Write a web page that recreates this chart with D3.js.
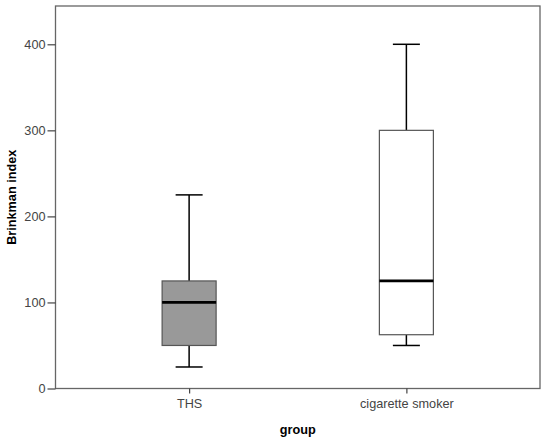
<!DOCTYPE html>
<html>
<head>
<meta charset="utf-8">
<script src="https://cdn.jsdelivr.net/npm/d3@7"></script>
<style>
  body { margin: 0; background: #fff; }
  svg { display: block; font-family: "Liberation Sans", Arial, sans-serif; }
</style>
</head>
<body>
<svg id="chart"></svg>
<script>
// box plot summaries
const groups = ["THS", "cigarette smoker"];
const whiskerLow = [25, 50];
const q1 = [50, 62.5];
const median = [100, 125];
const q3 = [125, 300];
const whiskerHigh = [225, 400];
const boxFill = ["#999999", "#ffffff"];
const yTicks = [0, 100, 200, 300, 400];

const W = 550, H = 441;
const margin = { top: 6, right: 10, bottom: 52.5, left: 55.5 };
const width = W - margin.left - margin.right;
const height = H - margin.top - margin.bottom;

const svg = d3.select("#chart").attr("width", W).attr("height", H);
const g = svg.append("g").attr("transform", `translate(${margin.left}, ${margin.top})`);

const x = d3.scalePoint().domain(groups).range([0, width]).padding(0.615);
const y = d3.scaleLinear().domain([0, 444.5]).range([height, 0]);

const boxW = 54, capW = 27;

// frame
g.append("rect")
  .attr("width", width)
  .attr("height", height)
  .attr("fill", "none")
  .attr("stroke", "#666")
  .attr("stroke-width", 1.3);

// y axis
const yAxis = g.append("g")
  .call(d3.axisLeft(y).tickValues(yTicks).tickSize(8).tickPadding(2));
yAxis.select(".domain").remove();
yAxis.selectAll("line").attr("stroke", "#444").attr("stroke-width", 1.2);
yAxis.selectAll("text").attr("fill", "#444").style("font-size", "12.7px");

// x axis
const xAxis = g.append("g")
  .attr("transform", `translate(0, ${height})`)
  .call(d3.axisBottom(x).tickSize(5).tickPadding(5));
xAxis.select(".domain").remove();
xAxis.selectAll("line").attr("stroke", "#444").attr("stroke-width", 1.2);
xAxis.selectAll("text").attr("fill", "#444").style("font-size", "12.7px");

// boxes
groups.forEach((grp, i) => {
  const cx = x(grp);
  const bg = g.append("g");

  // whiskers
  bg.append("line")
    .attr("x1", cx).attr("x2", cx)
    .attr("y1", y(q3[i])).attr("y2", y(whiskerHigh[i]))
    .attr("stroke", "#000").attr("stroke-width", 1.5);
  bg.append("line")
    .attr("x1", cx).attr("x2", cx)
    .attr("y1", y(q1[i])).attr("y2", y(whiskerLow[i]))
    .attr("stroke", "#000").attr("stroke-width", 1.5);
  [whiskerHigh[i], whiskerLow[i]].forEach((v) => {
    bg.append("line")
      .attr("x1", cx - capW / 2).attr("x2", cx + capW / 2)
      .attr("y1", y(v)).attr("y2", y(v))
      .attr("stroke", "#000").attr("stroke-width", 1.5);
  });

  // box
  bg.append("rect")
    .attr("x", cx - boxW / 2)
    .attr("y", y(q3[i]))
    .attr("width", boxW)
    .attr("height", y(q1[i]) - y(q3[i]))
    .attr("fill", boxFill[i])
    .attr("stroke", "#555")
    .attr("stroke-width", 1.2);

  // median
  bg.append("line")
    .attr("x1", cx - boxW / 2).attr("x2", cx + boxW / 2)
    .attr("y1", y(median[i])).attr("y2", y(median[i]))
    .attr("stroke", "#000").attr("stroke-width", 2.8);
});

// axis titles
svg.append("text")
  .attr("x", margin.left + width / 2)
  .attr("y", 434)
  .attr("text-anchor", "middle")
  .style("font-size", "12.7px")
  .style("font-weight", "bold")
  .text("group");

svg.append("text")
  .attr("transform", `translate(16, ${margin.top + height / 2}) rotate(-90)`)
  .attr("text-anchor", "middle")
  .style("font-size", "12.7px")
  .style("font-weight", "bold")
  .text("Brinkman index");
</script>
</body>
</html>
